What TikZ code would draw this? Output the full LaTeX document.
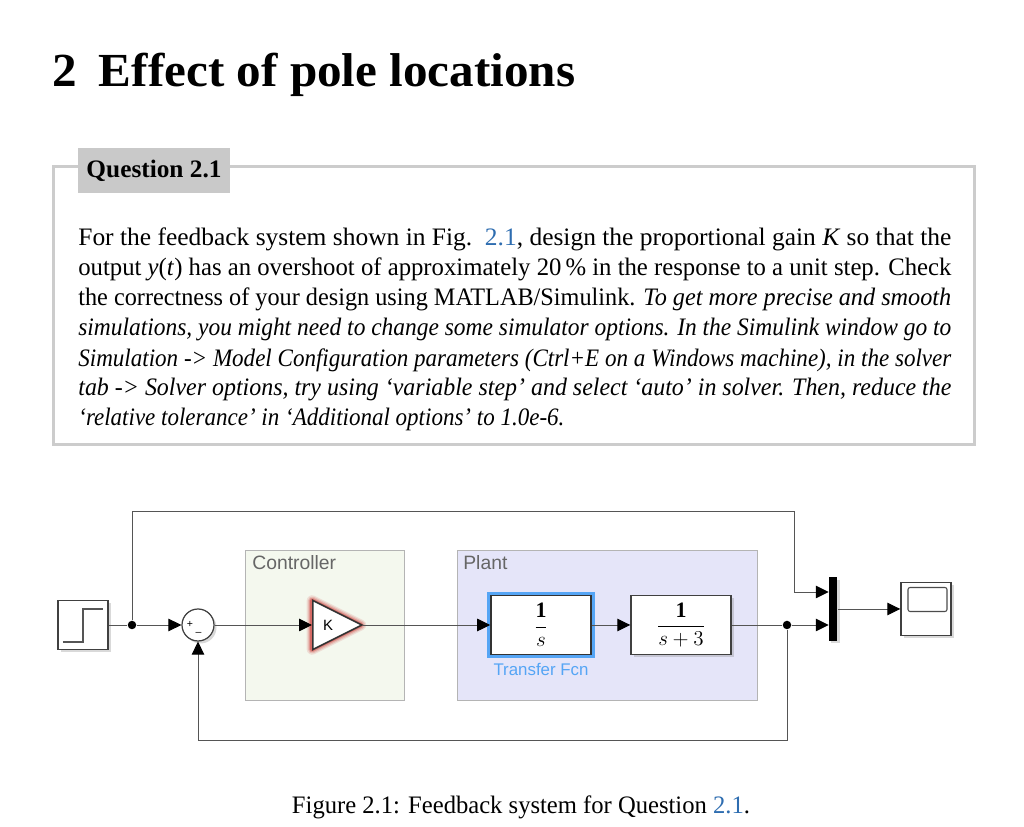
\documentclass[tikz,border=0pt]{standalone}
\usepackage{fontspec}
\setmainfont{Liberation Serif}
\setsansfont{Liberation Sans}
\usetikzlibrary{%
		arrows.meta%
		,shapes.geometric%
		,shadows%
	}

\definecolor{framegray}{HTML}{CCCCCC}
\definecolor{tabgray}{HTML}{C9C9C9}
\definecolor{linkblue}{HTML}{2E6DB0}
\definecolor{wiregray}{HTML}{555555}
\definecolor{ctrlfill}{HTML}{F4F8EE}
\definecolor{plantfill}{HTML}{E5E5F9}
\definecolor{selblue}{HTML}{55A5F5}
\definecolor{areaedge}{HTML}{B4B4B4}
\definecolor{areatext}{HTML}{666666}

\newcommand{\fitline}[2]{\resizebox{#1cm}{\height}{#2}}
\newcommand{\refnum}{\textcolor{linkblue}{2.1}}

\tikzset{
	textline/.style={anchor=west,inner sep=0pt,font=\fontsize{14.3}{17}\selectfont},
	wire/.style={draw=wiregray,line width=0.55pt},
	sig/.style={wire,-{Triangle[length=2.6mm,width=2.5mm,black]}},
	area/.style={draw=areaedge,line width=0.5pt,minimum width=#1,minimum height=3cm,inner sep=0pt},
	areatitle/.style={anchor=west,inner sep=0pt,text=areatext,font=\sffamily\fontsize{11}{13}\selectfont},
	softshadow/.style={drop shadow={shadow xshift=0.5mm,shadow yshift=-0.5mm,opacity=0.3}},
	block/.style={draw=black!75,fill=white,line width=0.8pt,inner sep=0pt,softshadow},
	splitdot/.style={circle,fill=black,inner sep=0pt,minimum size=0.17cm},
}

\begin{document}
\begin{tikzpicture}
	\useasboundingbox (0,0) rectangle (20.48,16.54);

	% heading
	\node[anchor=west,inner sep=0pt,font=\bfseries\fontsize{27}{32}\selectfont] (heading) at (1.04,15.04) {\fitline{10.46}{2\hspace{0.45em}Effect of pole locations}};

	% question box
	\node[draw=framegray,line width=2.2pt,minimum width=18.42cm,minimum height=5.56cm,inner sep=0pt] (qframe) at (10.28,10.43) {};
	\node[fill=tabgray,minimum width=3.04cm,minimum height=0.9cm,inner sep=0pt,font=\bfseries\fontsize{14.3}{17}\selectfont] (qtab) at (3.08,13.12) {\fitline{2.7}{Question 2.1}};

	\node[textline] (qa) at (1.56,11.75) {\fitline{17.46}{For the feedback system shown in Fig.\ \ \refnum, design the proportional gain \textit{K} so that the}};
	\node[textline] (qb) at (1.56,11.15) {\fitline{17.46}{output \textit{y}(\textit{t}) has an overshoot of approximately 20\,\% in the response to a unit step. Check}};
	\node[textline] (qc) at (1.56,10.55) {\fitline{17.46}{the correctness of your design using MATLAB/Simulink. \itshape To get more precise and smooth}};
	\node[textline] (qd) at (1.56,9.94) {\fitline{17.46}{\itshape simulations, you might need to change some simulator options. In the Simulink window go to}};
	\node[textline] (qe) at (1.56,9.34) {\fitline{17.46}{\itshape Simulation -> Model Configuration parameters (Ctrl+E on a Windows machine), in the solver}};
	\node[textline] (qf) at (1.56,8.75) {\fitline{17.46}{\itshape tab -> Solver options, try using ‘variable step’ and select ‘auto’ in solver. Then, reduce the}};
	\node[textline] (qg) at (1.56,8.15) {\fitline{9.72}{\itshape ‘relative tolerance’ in ‘Additional options’ to 1.0e-6.}};

	% subsystem areas
	\node[area=3.18cm,fill=ctrlfill] (ctrlarea) at (6.49,4.04) {};
	\node[areatitle] (ctrltitle) at (5.04,5.28) {Controller};
	\node[area=6.0cm,fill=plantfill] (plantarea) at (12.14,4.04) {};
	\node[areatitle] (planttitle) at (9.26,5.28) {Plant};

	% blocks
	\node[block,minimum width=1.0cm,minimum height=0.98cm] (stepsrc) at (1.66,4.04) {};
	\draw[wiregray,line width=0.7pt] (1.26,3.7) -- (1.66,3.7) -- (1.66,4.36) -- (2.06,4.36);

	\node[circle,draw=black!75,fill=white,line width=0.7pt,minimum size=0.64cm,inner sep=0pt,softshadow] (sum) at (3.96,4.04) {};
	\node[inner sep=0pt,font=\sffamily\fontsize{6}{7}\selectfont] (sumplus) at (3.8,4.06) {+};
	\node[inner sep=0pt,font=\sffamily\fontsize{6}{7}\selectfont] (summinus) at (3.97,3.86) {--};

	\foreach \w/\o in {6/0.10,4.6/0.14,3.2/0.2,2/0.3}
		\draw[red!75!black,line width=\w pt,opacity=\o,line join=round] (6.24,4.53) -- (7.22,4.04) -- (6.24,3.55) -- cycle;
	\node[isosceles triangle,isosceles triangle apex angle=90,isosceles triangle stretches,draw=black!80,fill=white,line width=0.9pt,
		minimum width=0.98cm,minimum height=0.98cm,inner sep=0pt,anchor=lower side] (gain) at (6.24,4.04) {};
	\node[inner sep=0pt,font=\sffamily\fontsize{8.5}{10}\selectfont] (gainlabel) at (6.56,4.04) {K};

	\node[draw=selblue,line width=2.6pt,minimum width=2.06cm,minimum height=1.24cm,inner sep=0pt] (tfhalo) at (10.82,4.04) {};
	\node[draw=black!80,fill=white,line width=0.9pt,minimum width=2.0cm,minimum height=1.18cm,inner sep=0pt,font=\fontsize{12.5}{15}\selectfont] (tfa) at (10.82,4.04) {$\displaystyle\frac{\mathbf{1}}{s}$};
	\node[anchor=center,inner sep=0pt,text=selblue,font=\sffamily\fontsize{9.6}{11}\selectfont] (tfname) at (10.82,3.16) {Transfer Fcn};
	\node[block,minimum width=2.0cm,minimum height=1.18cm,font=\fontsize{12.5}{15}\selectfont] (tfb) at (13.62,4.04) {$\displaystyle\frac{\mathbf{1}}{s+3}$};

	\node[fill=black,minimum width=0.17cm,minimum height=1.27cm,inner sep=0pt,softshadow] (mux) at (16.66,4.36) {};
	\node[block,minimum width=1.0cm,minimum height=1.06cm] (scope) at (18.52,4.36) {};
	\node[draw=black!70,rounded corners=1.2pt,line width=0.6pt,minimum width=0.78cm,minimum height=0.48cm,inner sep=0pt] (scopescreen) at (18.55,4.55) {};

	% junctions and wire corners
	\node[splitdot] (splita) at (2.64,4.04) {};
	\node[splitdot] (splitb) at (15.74,4.04) {};
	\coordinate (topleft) at (2.64,6.32);
	\coordinate (topright) at (15.88,6.32);
	\coordinate (fbcorner) at (15.74,1.74);
	\coordinate (muxina) at (16.575,4.7);
	\coordinate (muxinb) at (16.575,4.04);

	% connectors
	\draw[wire] (stepsrc.east) -- (splita);
	\draw[sig] (splita) -- (sum.west);
	\draw[sig] (sum.east) -- (gain.lower side);
	\draw[sig] (gain.apex) -- (tfa.west);
	\draw[sig] (tfa.east) -- (tfb.west);
	\draw[wire] (tfb.east) -- (splitb);
	\draw[sig] (splitb) -- (muxinb);
	\draw[sig] (mux.east) -- (scope.west);
	\draw[sig] (splitb) -- (fbcorner) -| (sum.south);
	\draw[sig] (splita) -- (topleft) -- (topright) |- (muxina);

	% caption
	\node[anchor=center,inner sep=0pt,font=\fontsize{14.3}{17}\selectfont] (caption) at (10.42,0.39) {\fitline{9.16}{Figure 2.1: Feedback system for Question \refnum.}};
\end{tikzpicture}
\end{document}
